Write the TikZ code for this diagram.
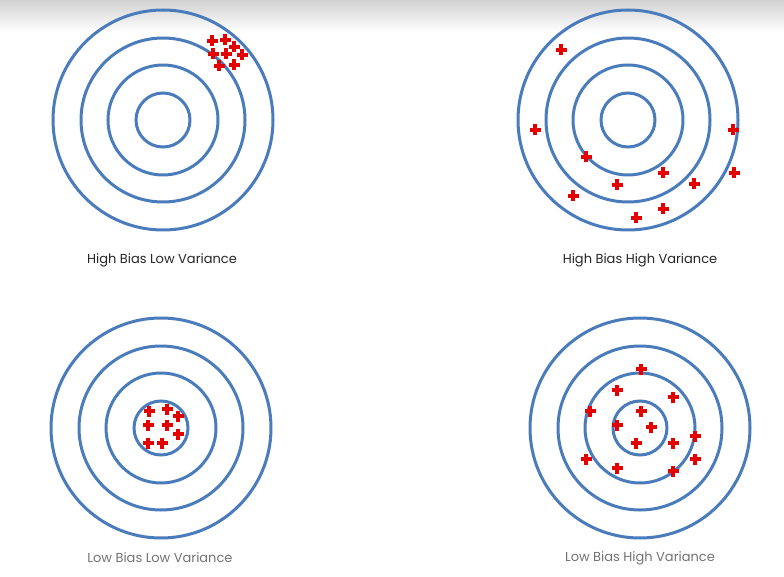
\documentclass[tikz,border=0pt]{standalone}
\usepackage{fontspec}
\setmainfont{Poppins}
\begin{document}
\begin{tikzpicture}[x=1pt,y=-1pt,
  ring/.style={draw=blue!45!cyan!60!black!80, line width=3pt},
  lbl/.style={font=\fontsize{13}{15}\selectfont, text=#1},
  hit/.pic={\fill[red!90!black] (-5.5,-1.8) rectangle (5.5,1.8); \fill[red!90!black] (-1.8,-5.5) rectangle (1.8,5.5);}]
\definecolor{ringc}{RGB}{74,124,188}
\tikzset{ring/.style={draw=ringc, line width=3pt}}
\useasboundingbox (0,0) rectangle (784,577);
\fill[white] (0,0) rectangle (784,577);
\shade[top color=black!18, bottom color=white] (0,0) rectangle (784,32);
\foreach \cx/\cy/\n in {163/120/a, 628/120/b, 161/428/c, 640/428/d}{
  \node[coordinate] (\n) at (\cx,\cy) {};
  \foreach \r in {110,82,55,27} \draw[ring] (\n) circle (\r);
}
\foreach \p in {(212,41),(225,40),(213,54),(226,54),(234,47),(242,55),(219,66),(234,65),
  (561,50),(535,130),(586,157),(573,196),(617,185),(663,173),(694,184),(636,218),(663,209),(733,130),(734,173),
  (149,411),(167,409),(178,416),(148,425),(167,425),(178,434),(148,443),(162,443),
  (641,369),(617,390),(673,397),(590,411),(641,411),(617,425),(651,427),(695,436),(673,443),(636,443),(586,459),(617,468),(673,471),(695,459)}
  \pic at \p {hit};
\node[lbl=black!85] (la) at (162,260) {High Bias Low Variance};
\node[lbl=black!85] (lb) at (640,260) {High Bias High Variance};
\node[lbl=black!55] (lc) at (160,558) {Low Bias Low Variance};
\node[lbl=black!55] (ld) at (640,558) {Low Bias High Variance};
\end{tikzpicture}
\end{document}
